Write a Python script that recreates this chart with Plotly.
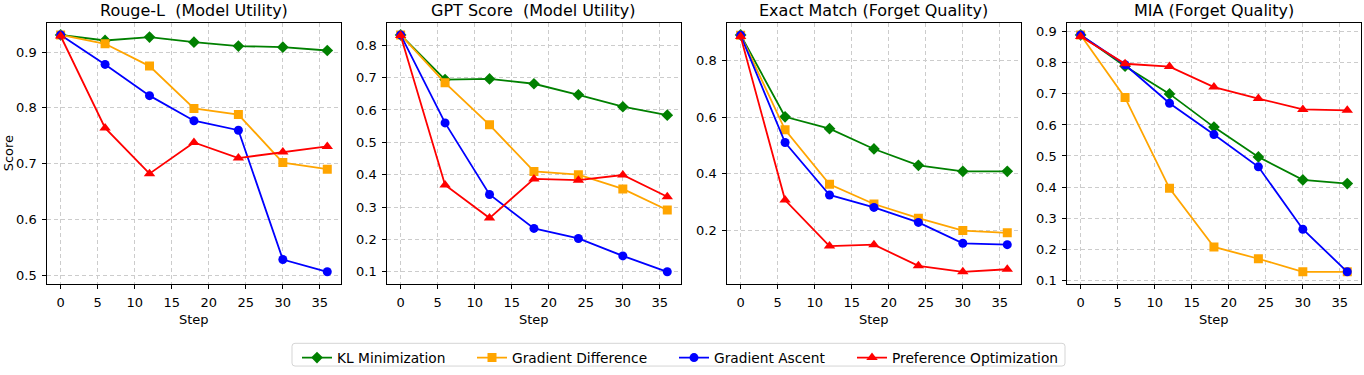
import plotly.graph_objects as go

W, H = 1364, 375

steps = [0, 6, 12, 18, 24, 30, 36]
method_names = ["KL Minimization", "Gradient Difference", "Gradient Ascent", "Preference Optimization"]
panel_titles = ["Rouge-L  (Model Utility)", "GPT Score  (Model Utility)",
                "Exact Match (Forget Quality)", "MIA (Forget Quality)"]

rouge_kl = [0.931, 0.921, 0.927, 0.918, 0.911, 0.909, 0.903]
rouge_gd = [0.931, 0.915, 0.875, 0.799, 0.788, 0.702, 0.690]
rouge_ga = [0.931, 0.878, 0.822, 0.777, 0.760, 0.528, 0.506]
rouge_po = [0.929, 0.764, 0.682, 0.738, 0.710, 0.721, 0.731]

gpt_kl = [0.832, 0.694, 0.696, 0.681, 0.647, 0.610, 0.584]
gpt_gd = [0.832, 0.684, 0.554, 0.410, 0.400, 0.356, 0.291]
gpt_ga = [0.832, 0.560, 0.339, 0.234, 0.203, 0.149, 0.100]
gpt_po = [0.830, 0.368, 0.266, 0.387, 0.383, 0.399, 0.332]

em_kl = [0.891, 0.601, 0.559, 0.487, 0.429, 0.408, 0.408]
em_gd = [0.890, 0.555, 0.362, 0.292, 0.242, 0.198, 0.190]
em_ga = [0.890, 0.510, 0.324, 0.280, 0.227, 0.153, 0.148]
em_po = [0.885, 0.306, 0.143, 0.148, 0.073, 0.052, 0.061]

mia_kl = [0.890, 0.789, 0.700, 0.593, 0.497, 0.423, 0.411]
mia_gd = [0.890, 0.688, 0.396, 0.207, 0.169, 0.127, 0.127]
mia_ga = [0.890, 0.794, 0.670, 0.569, 0.465, 0.264, 0.127]
mia_po = [0.885, 0.797, 0.788, 0.722, 0.685, 0.650, 0.647]

yticks_rouge = [0.5, 0.6, 0.7, 0.8, 0.9]
yticks_gpt = [0.1, 0.2, 0.3, 0.4, 0.5, 0.6, 0.7, 0.8]
yticks_em = [0.2, 0.4, 0.6, 0.8]
yticks_mia = [0.1, 0.2, 0.3, 0.4, 0.5, 0.6, 0.7, 0.8, 0.9]
xticks = [0, 5, 10, 15, 20, 25, 30, 35]

panels = [
    [rouge_kl, rouge_gd, rouge_ga, rouge_po],
    [gpt_kl, gpt_gd, gpt_ga, gpt_po],
    [em_kl, em_gd, em_ga, em_po],
    [mia_kl, mia_gd, mia_ga, mia_po],
]
panel_yticks = [yticks_rouge, yticks_gpt, yticks_em, yticks_mia]

colors = ["green", "orange", "blue", "red"]
symbols = ["diamond", "square", "circle", "triangle-up"]
msizes = [9, 9, 9, 10]

FONT = "DejaVu Sans"
lefts = [47.3, 387.3, 727.3, 1067.3]
pw = 293.3
top_px, bot_px = 23.3, 286.7
ydom = [1 - bot_px / H, 1 - top_px / H]

fig = go.Figure()
legend_ids = ["legend", "legend2", "legend3", "legend4"]

for p, series in enumerate(panels):
    ax = "" if p == 0 else str(p + 1)
    for i, vals in enumerate(series):
        fig.add_trace(go.Scatter(
            x=steps, y=vals, mode="lines+markers", name=method_names[i],
            line=dict(color=colors[i], width=1.8),
            marker=dict(symbol=symbols[i], size=msizes[i], color=colors[i], line=dict(width=0)),
            xaxis="x" + ax, yaxis="y" + ax,
            showlegend=(p == 0), legend=legend_ids[i],
        ))

layout = dict(
    width=W, height=H, margin=dict(l=0, r=0, t=0, b=0),
    paper_bgcolor="white", plot_bgcolor="white",
    font=dict(family=FONT, size=13, color="black"),
    showlegend=True,
)

annotations = []
for p in range(4):
    ax = "" if p == 0 else str(p + 1)
    allv = [v for s in panels[p] for v in s]
    lo, hi = min(allv), max(allv)
    m = 0.05 * (hi - lo)
    xdom = [lefts[p] / W, (lefts[p] + pw) / W]
    common = dict(showline=True, mirror=True, linecolor="black", linewidth=1,
                  ticks="outside", ticklen=4, tickcolor="black", tickwidth=1,
                  showgrid=True, gridcolor="#cccccc", griddash="4px,3px", gridwidth=0.8,
                  zeroline=False, ticklabelstandoff=3,
                  tickfont=dict(family=FONT, size=13, color="black"))
    layout["xaxis" + ax] = dict(domain=xdom, range=[-1.8, 37.8], tickvals=xticks,
                                anchor="y" + ax, **common)
    layout["yaxis" + ax] = dict(domain=ydom, range=[lo - m, hi + m], tickvals=panel_yticks[p],
                                tickformat=".1f", anchor="x" + ax, **common)
    cx = (xdom[0] + xdom[1]) / 2
    annotations.append(dict(text=panel_titles[p], x=cx, y=1 - 10.5 / H, xref="paper", yref="paper",
                            xanchor="center", yanchor="middle", showarrow=False,
                            font=dict(family=FONT, size=16, color="black")))
    annotations.append(dict(text="Step", x=cx, y=1 - 323 / H, xref="paper", yref="paper",
                            xanchor="center", yanchor="middle", showarrow=False,
                            font=dict(family=FONT, size=13, color="black")))

annotations.append(dict(text="Score", x=8 / W, y=1 - 155 / H, xref="paper", yref="paper",
                        xanchor="center", yanchor="middle", showarrow=False, textangle=-90,
                        font=dict(family=FONT, size=13, color="black")))
layout["annotations"] = annotations

item_starts = [299, 474, 676, 854]
for k, lid in enumerate(legend_ids):
    layout[lid] = dict(x=(item_starts[k] - 2) / W, y=1 - 361.5 / H, xanchor="left", yanchor="middle",
                       orientation="h", bgcolor="rgba(0,0,0,0)", borderwidth=0,
                       font=dict(family=FONT, size=13.75, color="black"))

# legend frame with rounded corners (paper coordinates)
lx0, lx1, ly0, ly1, rad = 292, 1065, 347, 370, 3
def px(x):
    return x / W
def py(y):
    return 1 - y / H
path = (f"M {px(lx0 + rad)} {py(ly0)} L {px(lx1 - rad)} {py(ly0)} "
        f"Q {px(lx1)} {py(ly0)} {px(lx1)} {py(ly0 + rad)} L {px(lx1)} {py(ly1 - rad)} "
        f"Q {px(lx1)} {py(ly1)} {px(lx1 - rad)} {py(ly1)} L {px(lx0 + rad)} {py(ly1)} "
        f"Q {px(lx0)} {py(ly1)} {px(lx0)} {py(ly1 - rad)} L {px(lx0)} {py(ly0 + rad)} "
        f"Q {px(lx0)} {py(ly0)} {px(lx0 + rad)} {py(ly0)} Z")
layout["shapes"] = [dict(type="path", path=path, xref="paper", yref="paper",
                         line=dict(color="#d5d5d5", width=1), fillcolor="rgba(0,0,0,0)", layer="below")]

fig.update_layout(**layout)
fig.write_html("out.html", config={"displayModeBar": False},
               post_script="document.body.style.margin='0px';document.body.style.padding='0px';"
                           "document.body.style.overflow='hidden';")
